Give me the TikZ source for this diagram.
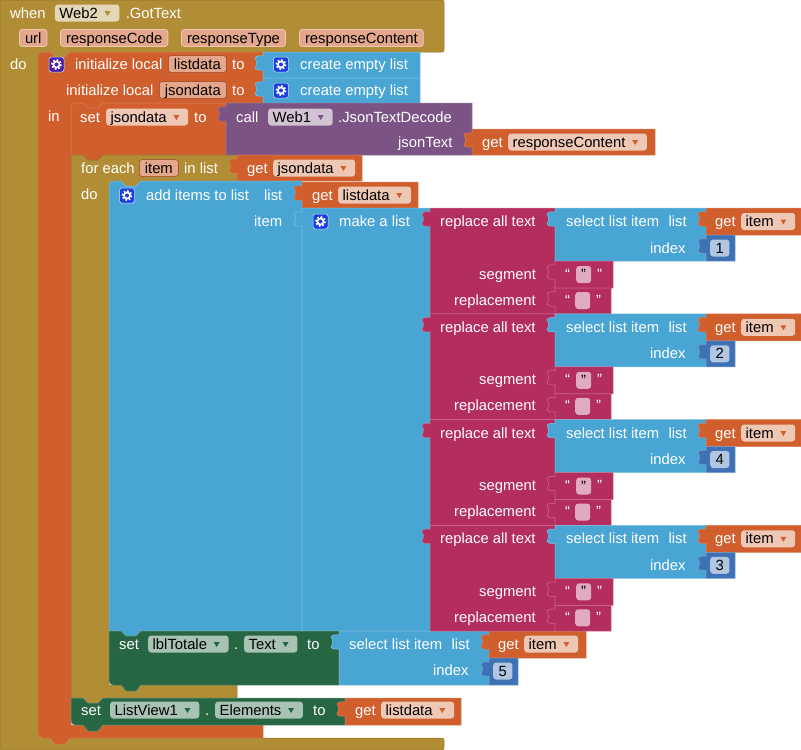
\documentclass[tikz,border=0pt]{standalone}
\usepackage{fontspec}
\setmainfont{Liberation Sans}
\usepackage{xcolor}
\usepackage{tikz}
\usetikzlibrary{positioning}
\pgfdeclarelayer{nodelayer}
\pgfsetlayers{main,nodelayer}
\definecolor{blockgold}{HTML}{B18E35}
\definecolor{blockorange}{HTML}{D05F2D}
\definecolor{blockpurple}{HTML}{7C5385}
\definecolor{blockblue}{HTML}{49A6D4}
\definecolor{blockcrimson}{HTML}{B32D5E}
\definecolor{blockgreen}{HTML}{266643}
\definecolor{blocknavy}{HTML}{3F71B5}
\definecolor{gearblue}{HTML}{1C3FE0}
\definecolor{gearpurple}{HTML}{4B1FA8}
\newcommand{\blockfont}{\fontsize{14.8}{16}\selectfont}
\tikzstyle{lbl}=[text=white, inner sep=0pt, anchor=west, text height=11.2pt, text depth=.8pt, font=\blockfont]
\tikzstyle{field}=[shape=rectangle, rounded corners=3pt, text=black, inner xsep=4.5pt, inner ysep=2.5pt, anchor=west, text height=11.2pt, text depth=.8pt, font=\blockfont]
\tikzstyle{gold_field}=[field, fill=blockgold!35!white]
\tikzstyle{param_field}=[field, inner xsep=5.6pt, fill=blockorange!55!white, draw=blockorange!35!white, line width=.8pt]
\tikzstyle{local_field}=[field, inner xsep=5.6pt, fill=blockorange!55!white, draw=blockorange!70!black, line width=.5pt]
\tikzstyle{orange_field}=[field, fill=blockorange!35!white]
\tikzstyle{purple_field}=[field, fill=blockpurple!35!white]
\tikzstyle{green_field}=[field, fill=blockgreen!40!white]
\tikzstyle{num_field}=[field, fill=blocknavy!40!white, inner xsep=5.5pt, minimum width=19pt]
\tikzstyle{text_field}=[field, fill=blockcrimson!40!white, inner xsep=2pt, minimum width=15pt, align=center]
\tikzstyle{gold_block}=[fill=blockgold, draw=blockgold!80!black, line width=.5pt]
\tikzstyle{orange_block}=[fill=blockorange, draw=blockorange!80!white, line width=.5pt]
\tikzstyle{purple_block}=[fill=blockpurple, draw=blockpurple!80!white, line width=.5pt]
\tikzstyle{blue_block}=[fill=blockblue, draw=blockblue!70!white, line width=.5pt]
\tikzstyle{crimson_block}=[fill=blockcrimson, draw=blockcrimson!70!white, line width=.5pt]
\tikzstyle{green_block}=[fill=blockgreen, draw=blockgreen!70!white, line width=.5pt]
\tikzstyle{navy_block}=[fill=blocknavy, draw=blocknavy!70!white, line width=.5pt]
\tikzstyle{mutator}=[shape=rectangle, rounded corners=2.5pt, draw=white!70!blockblue, line width=.5pt, minimum size=15pt, inner sep=0pt]
\tikzstyle{gear_teeth}=[draw=white, line width=1.8pt, dash pattern=on 1.77pt off 1.77pt]
\tikzstyle{gear_ring}=[draw=white, line width=1.6pt]
% path pieces, all relative
\newcommand{\notch}{-- ++(12,0) -- ++(5,5) -- ++(10,0) -- ++(5,-5)}
\newcommand{\tab}{-- ++(-5,6) -- ++(-10,0) -- ++(-5,-6)}
\newcommand{\knob}{.. controls +(-3,-1) and +(1,-2) .. ++(-8,2) .. controls +(2,3) and +(2,-3) .. ++(0,10) .. controls +(1,2) and +(-3,1) .. ++(8,2)}
% style, x1, y1, x2, y2
\newcommand{\valueblock}[5]{\draw[#1] (#2,#3) -- ++(0,4) \knob -- (#2,#5) -- (#4,#5) -- (#4,#3) -- cycle;}
\newcommand{\dropmark}[2]{\fill[#2] ([shift={(-15,-2)}]#1.east) -- ++(6,0) -- ++(-3,5) -- cycle;}
\newcommand{\dropgap}{\kern17pt}
% name, colour, centre
\newcommand{\gearicon}[3]{\node[mutator, fill=#2] (#1) at (#3) {};
  \draw[gear_teeth] (#1.center) circle (4.6);
  \draw[gear_ring] (#1.center) circle (3);}

\begin{document}
\begin{tikzpicture}[x=1pt, y=-1pt]
    \useasboundingbox (0,0) rectangle (801,750);
    % blocks, outermost first
    \draw[gold_block, rounded corners=2pt] (0,0) -- (444,0) -- (444,52) -- (70,52) \tab -- (42,52) -- (42,56) -- (38,56) -- (38,738) -- (444,738) -- (444,750) -- (0,750) -- cycle;
    \draw[orange_block] (38,56) .. controls (38,54) and (40,52) .. (42,52) -- (50,52) -- ++(5,5) -- ++(10,0) -- ++(5,-5) -- (263,52) -- (263,103) -- (103,103) \tab -- (75,103) -- (75,107) -- (71,107) -- (71,725) -- (263,725) -- (263,738) -- (70,738) \tab -- (42,738) .. controls (40,738) and (38,736) .. (38,734) -- cycle;
    \valueblock{blue_block}{263}{52}{420}{78}
    \valueblock{blue_block}{263}{78}{420}{104}
    \draw[orange_block] (71,155) -- (71,107) .. controls (71,105) and (73,103) .. (75,103) -- (83,103) -- ++(5,5) -- ++(10,0) -- ++(5,-5) -- (226,103) -- (226,155) -- (103,155) \tab -- cycle;
    \valueblock{purple_block}{226}{103}{472}{155}
    \valueblock{orange_block}{472}{129}{655}{155}
    \draw[gold_block] (71,155) -- (83,155) -- ++(5,5) -- ++(10,0) -- ++(5,-5) -- (237,155) -- (237,181) -- (141,181) \tab -- (113,181) -- (113,185) -- (109,185) -- (109,685) -- (237,685) -- (237,698) -- (103,698) \tab -- (71,698) -- cycle;
    \valueblock{orange_block}{237}{155}{362}{181}
    \draw[blue_block] (109,631) -- (109,185) .. controls (109,183) and (111,181) .. (113,181) -- (121,181) -- ++(5,5) -- ++(10,0) -- ++(5,-5) -- (302,181) -- (302,631) -- (141,631) \tab -- cycle;
    \valueblock{orange_block}{302}{182}{418}{208}
    \valueblock{blue_block}{302}{208}{430}{631}
    \draw[green_block] (109,631) -- (121,631) -- ++(5,5) -- ++(10,0) -- ++(5,-5) -- (339,631) -- (339,685) -- (141,685) \tab -- (113,685) .. controls (111,685) and (109,683) .. (109,681) -- cycle;
    \valueblock{blue_block}{339}{631}{489}{685}
    \valueblock{orange_block}{489}{631}{586}{658}
    \valueblock{navy_block}{489}{658}{518}{685}
    \draw[green_block] (71,698) -- (83,698) -- ++(5,5) -- ++(10,0) -- ++(5,-5) -- (345,698) -- (345,725) -- (103,725) \tab -- (75,725) .. controls (73,725) and (71,723) .. (71,721) -- cycle;
    \valueblock{orange_block}{345}{698}{461}{725}
    % the four text rows
    \foreach \rowy/\rowname in {208/1,313.75/2,419.5/4,525.25/3} {
        \begin{scope}[shift={(0,\rowy)}]
            \valueblock{crimson_block}{430}{0}{555}{105.75}
            \valueblock{blue_block}{555}{0}{706}{53}
            \valueblock{orange_block}{706}{0}{801}{27}
            \valueblock{navy_block}{706}{27}{735}{53}
            \valueblock{crimson_block}{555}{53}{613}{80}
            \valueblock{crimson_block}{555}{80}{611}{105.75}
            \begin{pgfonlayer}{nodelayer}
                \node[lbl] (replace\rowname) at (440,13.5) {replace all text};
                \node[lbl] (select\rowname) at (566,13.5) {select list item};
                \node[lbl, right=9pt of select\rowname] (list\rowname) {list};
                \node[lbl] (get\rowname) at (715,13.5) {get};
                \node[orange_field] (item\rowname) at (741,13.5) {item\dropgap};
                \dropmark{item\rowname}{blockorange}
                \node[lbl] (index\rowname) at (650,40) {index};
                \node[num_field] (num\rowname) at (710,40) {\rowname};
                \node[lbl] (segment\rowname) at (479,66) {segment};
                \node[lbl] (replacement\rowname) at (454,92) {replacement};
                \node[lbl] (openq\rowname) at (565,66) {“};
                \node[text_field] (quote\rowname) at (576,66.5) {"};
                \node[lbl] (closeq\rowname) at (597,66) {”};
                \node[lbl] (openr\rowname) at (565,92) {“};
                \node[text_field] (empty\rowname) at (575,92.5) {};
                \node[lbl] (closer\rowname) at (596,92) {”};
            \end{pgfonlayer}
        \end{scope}
    }
    \begin{pgfonlayer}{nodelayer}
        \node[lbl] (when) at (10,13) {when};
        \node[gold_field, right=9pt of when] (web2) {Web2\dropgap};
        \dropmark{web2}{blockgold}
        \node[lbl, right=6pt of web2] (gottext) {.GotText};
        \node[param_field] (url) at (19,38) {url};
        \node[param_field] (code) at (60,38) {responseCode};
        \node[param_field] (type) at (181,38) {responseType};
        \node[param_field] (content) at (299,38) {responseContent};
        \node[lbl] (do1) at (10,64) {do};
        \gearicon{gear1}{gearpurple}{56.5,64.5}
        \node[lbl] (init1) at (75,64) {initialize local};
        \node[local_field] (listdata1) at (168,64) {listdata};
        \node[lbl] (to1) at (232,64) {to};
        \gearicon{gear2}{gearblue}{281,64.5}
        \node[lbl] (empty1) at (300,64) {create empty list};
        \node[lbl] (init2) at (66,90) {initialize local};
        \node[local_field] (jsondata1) at (159,90) {jsondata};
        \node[lbl] (to2) at (232,90) {to};
        \gearicon{gear3}{gearblue}{281,90.5}
        \node[lbl] (empty2) at (300,90) {create empty list};
        \node[lbl] (in1) at (48,116) {in};
        \node[lbl] (set1) at (80,117) {set};
        \node[orange_field] (jsondata2) at (106,117) {jsondata\dropgap};
        \dropmark{jsondata2}{blockorange}
        \node[lbl] (to3) at (194,117) {to};
        \node[lbl] (call) at (236,117) {call};
        \node[purple_field] (web1) at (268,117) {Web1\dropgap};
        \dropmark{web1}{blockpurple}
        \node[lbl] (decode) at (338,117) {.JsonTextDecode};
        \node[lbl] (jsontext) at (398,142) {jsonText};
        \node[lbl] (get1) at (482,142) {get};
        \node[orange_field] (content2) at (508,142) {responseContent\dropgap};
        \dropmark{content2}{blockorange}
        \node[lbl] (foreach) at (81,168) {for each};
        \node[local_field] (item1) at (139,168) {item};
        \node[lbl] (inlist) at (184,168) {in list};
        \node[lbl] (get2) at (247,168) {get};
        \node[orange_field] (jsondata3) at (273,168) {jsondata\dropgap};
        \dropmark{jsondata3}{blockorange}
        \node[lbl] (do2) at (81,194) {do};
        \gearicon{gear4}{gearblue}{127,195.5}
        \node[lbl] (additems) at (146,195) {add items to list};
        \node[lbl] (list1) at (264,195) {list};
        \node[lbl] (get3) at (312,195) {get};
        \node[orange_field] (listdata2) at (338,195) {listdata\dropgap};
        \dropmark{listdata2}{blockorange}
        \node[lbl] (itemlbl) at (254,221) {item};
        \gearicon{gear5}{gearblue}{320.5,221.5}
        \node[lbl] (makelist) at (339,221) {make a list};
        \node[lbl] (set2) at (119,644) {set};
        \node[green_field] (totale) at (148,644) {lblTotale\dropgap};
        \dropmark{totale}{blockgreen}
        \node[lbl] (dot1) at (234,644) {.};
        \node[green_field] (textprop) at (244,644) {Text\dropgap};
        \dropmark{textprop}{blockgreen}
        \node[lbl] (to4) at (307,644) {to};
        \node[lbl] (select5) at (349,644) {select list item};
        \node[lbl, right=9pt of select5] (list5) {list};
        \node[lbl] (get5) at (498,644) {get};
        \node[orange_field] (item5) at (524,644) {item\dropgap};
        \dropmark{item5}{blockorange}
        \node[lbl] (index5) at (433,670) {index};
        \node[num_field] (num5) at (493,671) {5};
        \node[lbl] (set3) at (81,710) {set};
        \node[green_field] (listview) at (110,710) {ListView1\dropgap};
        \dropmark{listview}{blockgreen}
        \node[lbl] (dot2) at (205,710) {.};
        \node[green_field] (elements) at (215,710) {Elements\dropgap};
        \dropmark{elements}{blockgreen}
        \node[lbl] (to5) at (313,710) {to};
        \node[lbl] (get6) at (355,710) {get};
        \node[orange_field] (listdata3) at (381,710) {listdata\dropgap};
        \dropmark{listdata3}{blockorange}
    \end{pgfonlayer}
\end{tikzpicture}
\end{document}
